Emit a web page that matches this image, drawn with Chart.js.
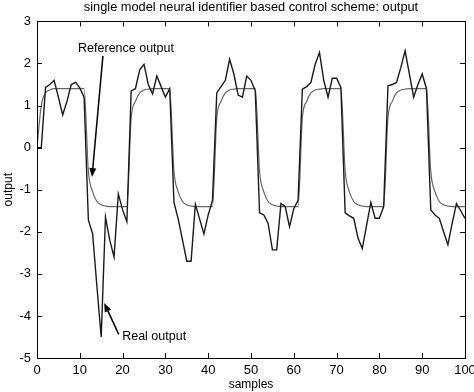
<!DOCTYPE html>
<html>
<head>
<meta charset="utf-8">
<script src="https://cdn.jsdelivr.net/npm/chart.js@4.4.1/dist/chart.umd.min.js"></script>
<style>
  html, body { margin: 0; padding: 0; background: #fff; }
  canvas { display: block; }
</style>
</head>
<body>
<canvas id="output-chart" width="474" height="392"></canvas>
<script>
const samples = Array.from({ length: 101 }, (_, i) => i);

const referenceOutput = [
  0, 1.0, 1.3, 1.37, 1.4, 1.4, 1.4, 1.4, 1.4, 1.4,
  1.4, 1.4, -0.55, -1.05, -1.28, -1.36, -1.39, -1.4, -1.4, -1.4,
  -1.4, -1.4, 0.7, 1.1, 1.3, 1.37, 1.39, 1.4, 1.4, 1.4,
  1.4, 1.4, -0.55, -1.05, -1.28, -1.36, -1.39, -1.4, -1.4, -1.4,
  -1.4, -1.4, 0.7, 1.1, 1.3, 1.37, 1.39, 1.4, 1.4, 1.4,
  1.4, 1.4, -0.55, -1.05, -1.28, -1.36, -1.39, -1.4, -1.4, -1.4,
  -1.4, -1.4, 0.7, 1.1, 1.3, 1.37, 1.39, 1.4, 1.4, 1.4,
  1.4, 1.4, -0.55, -1.05, -1.28, -1.36, -1.39, -1.4, -1.4, -1.4,
  -1.4, -1.4, 0.7, 1.1, 1.3, 1.37, 1.39, 1.4, 1.4, 1.4,
  1.4, 1.4, -0.55, -1.05, -1.28, -1.36, -1.39, -1.4, -1.4, -1.4,
  -1.4
];

const realOutput = [
  0, 0, 1.43, 1.5, 1.6, 1.2, 0.78, 1.1, 1.5, 1.55,
  1.42, 1.2, -1.72, -2.05, -3.3, -4.5, -1.65, -2.2, -2.6, -1.1,
  -1.48, -1.76, 1.35, 1.4, 1.85, 1.98, 1.5, 1.28, 1.7, 1.45,
  1.2, 1.4, -1.3, -1.7, -2.2, -2.7, -2.7, -1.35, -1.7, -2.05,
  -1.6, -1.25, 1.3, 1.45, 1.6, 2.1, 1.75, 1.25, 1.2, 1.7,
  1.6, 1.35, -1.55, -1.6, -1.8, -2.43, -2.43, -1.33, -1.4, -1.88,
  -1.45, -1.25, 1.39, 1.45, 1.55, 1.98, 2.26, 1.6, 1.2, 1.65,
  1.65, 1.43, -1.55, -1.62, -1.68, -2.15, -2.4, -1.85, -1.3, -1.68,
  -1.68, -1.4, 1.47, 1.5, 1.55, 1.9, 2.3, 1.75, 1.2, 1.5,
  1.75, 1.4, -1.48, -1.6, -1.68, -2.0, -2.31, -1.8, -1.33, -1.5,
  -1.68
];

const xTicks = [0, 10, 20, 30, 40, 50, 60, 70, 80, 90, 100];
const yTicks = [-5, -4, -3, -2, -1, 0, 1, 2, 3];

// labels with arrows, in data units
const notes = [
  { text: 'Reference output', at: [20.8, 2.35], align: 'center', from: [15.4, 2.18], to: [12.85, -0.7] },
  { text: 'Real output', at: [19.9, -4.48], align: 'left', from: [19.1, -4.44], to: [15.7, -3.69] }
];

Chart.defaults.font.family = '"Liberation Sans", Arial, sans-serif';
Chart.defaults.color = '#000';

const frame = {
  id: 'frame',
  afterDatasetsDraw(chart) {
    const { ctx, chartArea: a, scales: { x, y } } = chart;
    ctx.save();
    ctx.strokeStyle = '#000';
    ctx.lineWidth = 1;
    ctx.strokeRect(Math.round(a.left) + 0.5, Math.round(a.top) + 0.5,
      Math.round(a.right - a.left), Math.round(a.bottom - a.top));
    ctx.beginPath();
    xTicks.forEach(v => {
      const px = Math.round(x.getPixelForValue(v)) + 0.5;
      ctx.moveTo(px, a.bottom); ctx.lineTo(px, a.bottom - 5);
      ctx.moveTo(px, a.top); ctx.lineTo(px, a.top + 5);
    });
    yTicks.forEach(v => {
      const py = Math.round(y.getPixelForValue(v)) + 0.5;
      ctx.moveTo(a.left, py); ctx.lineTo(a.left + 5, py);
      ctx.moveTo(a.right, py); ctx.lineTo(a.right - 5, py);
    });
    ctx.stroke();

    ctx.font = '12.5px "Liberation Sans", Arial, sans-serif';
    ctx.fillStyle = '#000';
    ctx.textBaseline = 'middle';
    notes.forEach(n => {
      ctx.textAlign = n.align;
      ctx.fillText(n.text, x.getPixelForValue(n.at[0]), y.getPixelForValue(n.at[1]));
      const x0 = x.getPixelForValue(n.from[0]), y0 = y.getPixelForValue(n.from[1]);
      const x1 = x.getPixelForValue(n.to[0]), y1 = y.getPixelForValue(n.to[1]);
      const ang = Math.atan2(y1 - y0, x1 - x0);
      ctx.beginPath();
      ctx.lineWidth = 1.5;
      ctx.moveTo(x0, y0);
      ctx.lineTo(x1 - 6 * Math.cos(ang), y1 - 6 * Math.sin(ang));
      ctx.stroke();
      ctx.beginPath();
      ctx.moveTo(x1, y1);
      ctx.lineTo(x1 - 9 * Math.cos(ang) + 3.5 * Math.sin(ang), y1 - 9 * Math.sin(ang) - 3.5 * Math.cos(ang));
      ctx.lineTo(x1 - 9 * Math.cos(ang) - 3.5 * Math.sin(ang), y1 - 9 * Math.sin(ang) + 3.5 * Math.cos(ang));
      ctx.closePath();
      ctx.fill();
    });
    ctx.restore();
  }
};

const ctx = document.getElementById('output-chart').getContext('2d');
const outputChart = new Chart(ctx, {
  type: 'line',
  data: {
    datasets: [{
        label: 'Reference output',
        data: samples.map((s, i) => ({ x: s, y: referenceOutput[i] })),
        borderColor: '#666',
        borderWidth: 1.2,
        pointRadius: 0,
        cubicInterpolationMode: 'monotone',
        order: 2
      }, {
        label: 'Real output',
        data: samples.map((s, i) => ({ x: s, y: realOutput[i] })),
        borderColor: '#1a1a1a',
        borderWidth: 1.4,
        pointRadius: 0,
        tension: 0,
        order: 1
    }]
  },
  options: {
    responsive: false,
    animation: false,
    layout: { padding: { left: 0, right: 9, top: 0, bottom: 0 } },
    scales: {
      x: {
        type: 'linear',
        min: 0,
        max: 100,
        afterBuildTicks: s => { s.ticks = xTicks.map(v => ({ value: v })); },
        afterFit: s => { s.height = 34; s.paddingLeft = 0; s.paddingRight = 0; },
        grid: { display: false, drawTicks: false },
        border: { display: false },
        ticks: { font: { size: 13 }, padding: 5, maxRotation: 0, autoSkip: false },
        title: { display: true, text: 'samples', font: { size: 12 }, padding: { top: 0, bottom: 0 } }
      },
      y: {
        min: -5,
        max: 3,
        afterBuildTicks: s => { s.ticks = yTicks.map(v => ({ value: v })); },
        afterFit: s => { s.width = 37; s.paddingTop = 0; s.paddingBottom = 0; },
        grid: { display: false, drawTicks: false },
        border: { display: false },
        ticks: { font: { size: 13 }, padding: 6 },
        title: { display: true, text: 'output', font: { size: 12 }, padding: { top: 1, bottom: 0 } }
      }
    },
    plugins: {
      legend: { display: false },
      tooltip: { enabled: false },
      title: {
        display: true,
        fullSize: false,
        text: 'single model neural identifier based control scheme: output',
        font: { size: 12.8, weight: 'normal', lineHeight: 1.125 },
        padding: { top: 0, bottom: 7 }
      }
    }
  },
  plugins: [frame]
});
</script>
</body>
</html>
